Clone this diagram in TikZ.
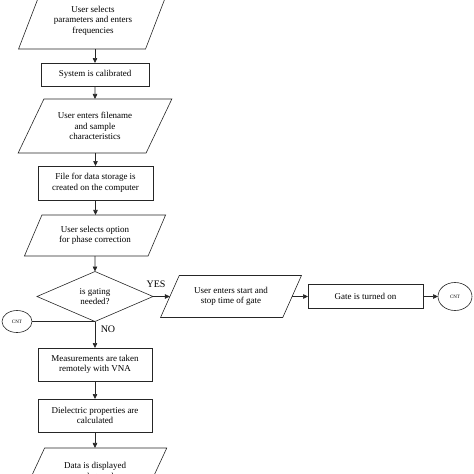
\documentclass[tikz,border=0pt]{standalone}
\usepackage{fontspec}
\setmainfont{Liberation Serif}
\usetikzlibrary{shapes.geometric,arrows.meta}
\begin{document}
\begin{tikzpicture}[x=1pt,y=-1pt,
  base/.style={draw=black!85,line width=0.6pt,inner sep=0pt,outer sep=0pt,align=center,
    font=\fontsize{9}{10.5}\selectfont},
  procbox/.style={base,rectangle},
  iobox/.style={base,trapezium,trapezium stretches=true},
  decbox/.style={base,diamond,aspect=2.3},
  conn/.style={base,ellipse,font=\fontsize{5}{6}\selectfont},
  arr/.style={draw=black!85,line width=0.7pt,-{Triangle[length=5pt,width=4.5pt]}},
  ln/.style={draw=black!85,line width=0.7pt},
  lab/.style={font=\fontsize{10}{12}\selectfont,inner sep=0pt}]
\useasboundingbox (0,0) rectangle (474,474);
\clip (0,0) rectangle (474,474);
\node[iobox,minimum width=149pt,minimum height=57pt,trapezium left angle=60.7,trapezium right angle=119.3] (p1) at (93,20.5) {User selects\\parameters and enters\\frequencies};
\node[procbox,minimum width=108pt,minimum height=23pt] (s2) at (95,74.5) {System is calibrated};
\node[iobox,minimum width=154pt,minimum height=54pt,trapezium left angle=55.6,trapezium right angle=124.4] (p3) at (95,126) {User enters filename\\and sample\\characteristics};
\node[procbox,minimum width=115pt,minimum height=34pt] (s4) at (95.5,183) {File for data storage is\\created on the computer};
\node[iobox,minimum width=142pt,minimum height=41pt,trapezium left angle=57.6,trapezium right angle=122.4] (p5) at (95,235.5) {User selects option\\for phase correction};
\node[decbox,minimum width=116pt,minimum height=50pt] (dia) at (95,296.5) {is gating\\needed?};
\node[iobox,minimum width=142pt,minimum height=42pt,trapezium left angle=54.5,trapezium right angle=125.5] (p7) at (231,296.5) {User enters start and\\stop time of gate};
\node[procbox,minimum width=115pt,minimum height=24pt] (gate) at (365.5,296.5) {Gate is turned on};
\node[conn,minimum width=34pt,minimum height=28pt] (cntR) at (455,296.5) {CNT};
\node[conn,minimum width=30pt,minimum height=22pt] (cntL) at (17,321.5) {CNT};
\node[procbox,minimum width=114pt,minimum height=33pt] (s8) at (95,364.5) {Measurements are taken\\remotely with VNA};
\node[procbox,minimum width=114pt,minimum height=33pt] (s9) at (95,415.5) {Dielectric properties are\\calculated};
\node[iobox,minimum width=144pt,minimum height=46pt,trapezium left angle=52,trapezium right angle=128] (p10) at (95,471) {Data is displayed\\and stored};
\node[lab] (yes) at (156,284) {YES};
\node[lab] (no) at (108,329) {NO};
\draw[arr] (p1.south -| s2.north) -- (s2.north);
\draw[arr] (s2.south) -- (p3.north);
\draw[arr] (p3.south -| s4.north) -- (s4.north);
\draw[arr] (s4.south) -- (p5.north -| s4.south);
\draw[arr] (p5.south) -- (dia.north);
\draw[arr] (dia.east) -- (p7);
\draw[arr] (p7) -- (gate.west);
\draw[arr] (gate.east) -- (cntR.west);
\draw[ln] (cntL.east) -- (dia.south);
\draw[arr] (dia.south) -- (s8.north);
\draw[arr] (s8.south) -- (s9.north);
\draw[arr] (s9.south) -- (p10.north -| s9.south);
\end{tikzpicture}
\end{document}
